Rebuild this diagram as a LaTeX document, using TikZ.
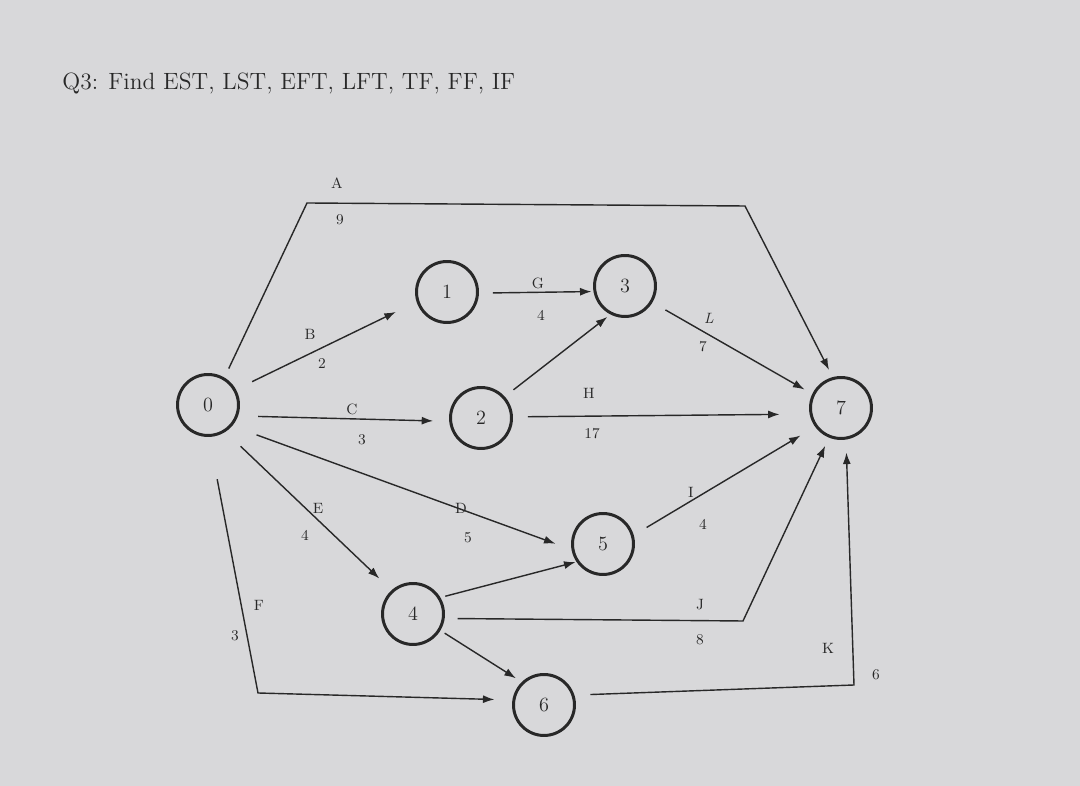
\documentclass[tikz,border=0pt]{standalone}
\usetikzlibrary{arrows.meta}
\definecolor{paper}{RGB}{216,216,218}
\definecolor{ink}{RGB}{40,40,40}
\begin{document}
\begin{tikzpicture}[x=0.02cm,y=-0.02cm,
  ev/.style={circle,draw=ink,line width=1.7pt,minimum size=1.22cm,inner sep=0pt,text=ink,font=\fontsize{11.5}{12}\selectfont},
  act/.style={draw=ink,line width=0.8pt,-{Latex[length=2.3mm,width=1.6mm]}},
  lab/.style={text=ink,font=\fontsize{8.5}{9}\selectfont,inner sep=0pt}]
\fill[paper] (0,0) rectangle (1080,786);
\useasboundingbox (0,0) rectangle (1080,786);
\node[anchor=west,text=ink,font=\fontsize{13.4}{15}\selectfont,inner sep=0pt] (title) at (62,84) {Q3: Find EST, LST, EFT, LFT, TF, FF, IF};
% events
\node[ev] (n0) at (208,405) {0};
\node[ev] (n1) at (447,292) {1};
\node[ev] (n3) at (625,286) {3};
\node[ev] (n2) at (481,418) {2};
\node[ev] (n7) at (841,408) {7};
\node[ev] (n5) at (603,544) {5};
\node[ev] (n4) at (413,614) {4};
\node[ev] (n6) at (544,705) {6};
% bend points
\coordinate (a1) at (307,203);
\coordinate (a2) at (745,206);
\coordinate (j1) at (743,621);
\coordinate (f1) at (258,693);
\coordinate (k1) at (854,685);
% activities
\draw[act,shorten <=0.2cm,shorten >=0.16cm] (n0.59) -- (a1) -- (a2) -- (n7.105);
\draw[act,shorten <=0.36cm,shorten >=0.46cm] (n0.29) -- (n1.198);
\draw[act,shorten <=0.28cm,shorten >=0.04cm] (n1.-2) -- (n3.190);
\draw[act,shorten <=0.22cm,shorten >=0.08cm] (n2.42) -- (n3.243);
\draw[act,shorten <=0.4cm,shorten >=0.32cm] (n0.-20) -- (n2.186);
\draw[act,shorten <=0.3cm,shorten >=0.6cm] (n2.2) -- (n7.191);
\draw[act,shorten <=0.3cm,shorten >=0.18cm] (n3.-31) -- (n7.154);
\draw[act,shorten <=0.52cm,shorten >=0.34cm] (n0.-41) -- (n5.190);
\draw[act,shorten <=0.42cm,shorten >=0.34cm] (n0.-57) -- (n4.132);
\draw[act,shorten <=0.1cm,shorten >=0.02cm] (n4.31) -- (n5.214);
\draw[act,shorten <=0.3cm,shorten >=0.34cm] (n5.16) -- (n7.216);
\draw[act,shorten <=0.26cm,shorten >=0.18cm] (n4.-8) -- (j1) -- (n7.248);
\draw[act,shorten <=0.1cm,shorten >=0.14cm] (n4.-31) -- (n6.134);
\draw[act,shorten <=0.86cm,shorten >=0.36cm] (n0.-88) -- (f1) -- (n6.171);
\draw[act,shorten <=0.32cm,shorten >=0.26cm] (n6.18) -- (k1) -- (n7.-81);
% labels
\node[lab] (lA) at (337,183) {A};
\node[lab] (dA) at (340,220) {9};
\node[lab] (lB) at (310,334) {B};
\node[lab] (dB) at (322,364) {2};
\node[lab] (lG) at (538,283) {G};
\node[lab] (dG) at (541,315) {4};
\node[lab] (lC) at (352,409) {C};
\node[lab] (dC) at (362,440) {3};
\node[lab] (lH) at (589,393) {H};
\node[lab] (dH) at (592,434) {17};
\node[lab] (lL) at (709,318) {\textit{L}};
\node[lab] (dL) at (703,347) {7};
\node[lab] (lD) at (461,508) {D};
\node[lab] (dD) at (468,538) {5};
\node[lab] (lE) at (318,508) {E};
\node[lab] (dE) at (305,535) {4};
\node[lab] (lI) at (691,492) {I};
\node[lab] (dI) at (703,524) {4};
\node[lab] (lJ) at (700,605) {J};
\node[lab] (dJ) at (700,640) {8};
\node[lab] (lF) at (259,605) {F};
\node[lab] (dF) at (235,636) {3};
\node[lab] (lK) at (828,648) {K};
\node[lab] (dK) at (876,675) {6};
\end{tikzpicture}
\end{document}
